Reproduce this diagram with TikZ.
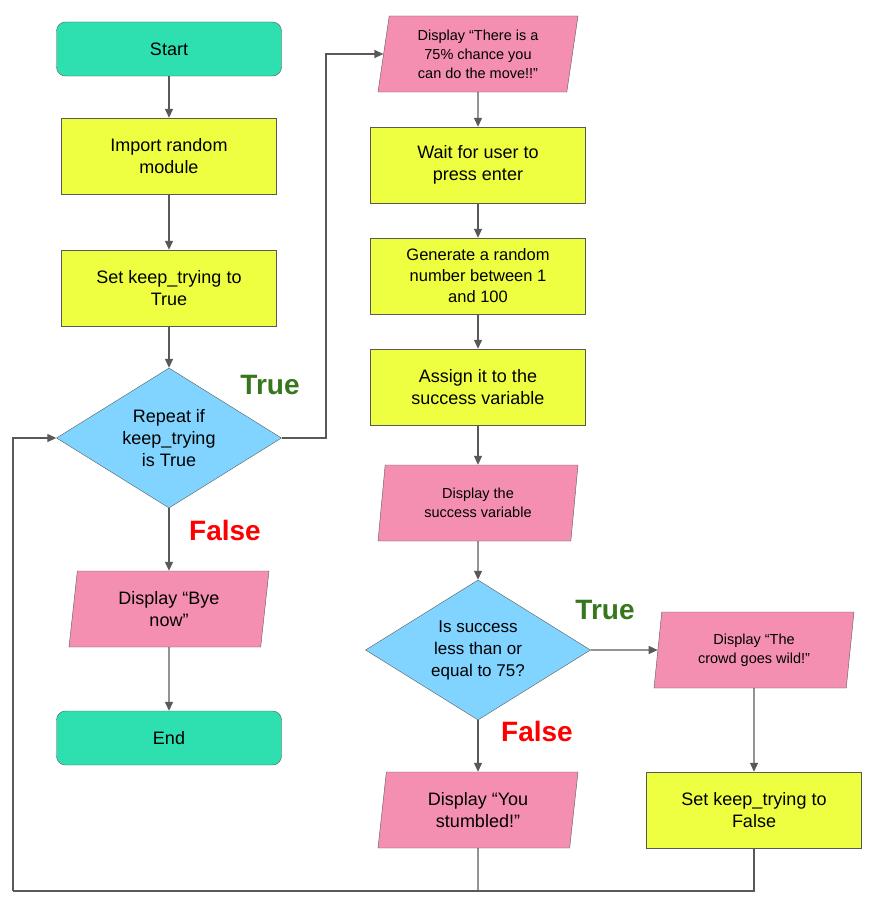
\documentclass[tikz,border=0pt]{standalone}
\usepackage{fontspec}
\setmainfont{Liberation Sans}
\usetikzlibrary{shapes.geometric,arrows.meta}
\definecolor{teal}{HTML}{2EDFB0}
\definecolor{yel}{HTML}{EEFF41}
\definecolor{pink}{HTML}{F48FB1}
\definecolor{blu}{HTML}{80D4FF}
\definecolor{ln}{HTML}{595959}
\definecolor{gr}{HTML}{38761D}
\begin{document}
\begin{tikzpicture}[x=1pt,y=-1pt,
  every node/.style={align=center,font=\fontsize{18}{22}\selectfont,inner sep=2pt},
  term/.style={draw=ln,fill=teal,rounded corners=9pt,minimum width=225,minimum height=54},
  proc/.style={draw=ln,fill=yel,minimum width=215,minimum height=76},
  io/.style={draw=ln,fill=pink,trapezium,trapezium left angle=78,trapezium right angle=102,trapezium stretches body,minimum width=200,minimum height=76},
  dec/.style={draw=ln,fill=blu,diamond,aspect=1.6,minimum width=225,minimum height=140,inner sep=0pt},
  lab/.style={font=\fontsize{28}{30}\selectfont\bfseries},
  arr/.style={draw=ln,line width=1.3pt,-{Triangle[length=9pt,width=8pt]}},
  lin/.style={draw=ln,line width=1.3pt}]
\useasboundingbox (0,0) rectangle (881,907);
\node[term] (start) at (169,49) {Start};
\node[proc] (imp) at (169,156) {Import random\\module};
\node[proc] (set) at (169,288) {Set keep\_trying to\\True};
\node[dec] (rep) at (169,438) {Repeat if\\keep\_trying\\is True};
\node[io] (bye) at (169,609) {Display “Bye\\now”};
\node[term] (end) at (169,738) {End};
\node[io,font=\fontsize{14.5}{19}\selectfont] (d75) at (478,54) {Display “There is a\\75\% chance you\\can do the move!!”};
\node[proc] (wait) at (478,165) {Wait for user to\\press enter};
\node[proc,font=\fontsize{16.5}{21}\selectfont] (gen) at (478,276) {Generate a random\\number between 1\\and 100};
\node[proc] (asg) at (478,387) {Assign it to the\\success variable};
\node[io,font=\fontsize{14.5}{19}\selectfont] (dsv) at (478,503) {Display the\\success variable};
\node[dec,font=\fontsize{17}{22}\selectfont] (is) at (478,650) {Is success\\less than or\\equal to 75?};
\node[io,font=\fontsize{14.5}{19}\selectfont] (crowd) at (754,650) {Display “The\\crowd goes wild!”};
\node[proc] (setf) at (754,810) {Set keep\_trying to\\False};
\node[io] (stum) at (478,810) {Display “You\\stumbled!”};
\node[lab,text=gr] at (270,385) {True};
\node[lab,text=red] at (225,530) {False};
\node[lab,text=gr] at (605,610) {True};
\node[lab,text=red] at (537,731) {False};
\coordinate (b) at (13,891);
\draw[arr] (start) -- (imp);
\draw[arr] (imp) -- (set);
\draw[arr] (set) -- (rep);
\draw[arr] (rep) -- (bye);
\draw[arr] (bye) -- (end);
\draw[arr] (rep.east) -- (326,438) -- (326,54) -- (d75.west);
\draw[arr] (d75) -- (wait);
\draw[arr] (wait) -- (gen);
\draw[arr] (gen) -- (asg);
\draw[arr] (asg) -- (dsv);
\draw[arr] (dsv) -- (is);
\draw[arr] (is.east) -- (crowd.west);
\draw[arr] (crowd) -- (setf);
\draw[arr] (is) -- (stum);
\draw[lin] (setf.south) -- (754,891) -- (b);
\draw[lin] (stum.south) -- (478,891);
\draw[arr] (b) -- (13,438) -- (rep.west);
\end{tikzpicture}
\end{document}
